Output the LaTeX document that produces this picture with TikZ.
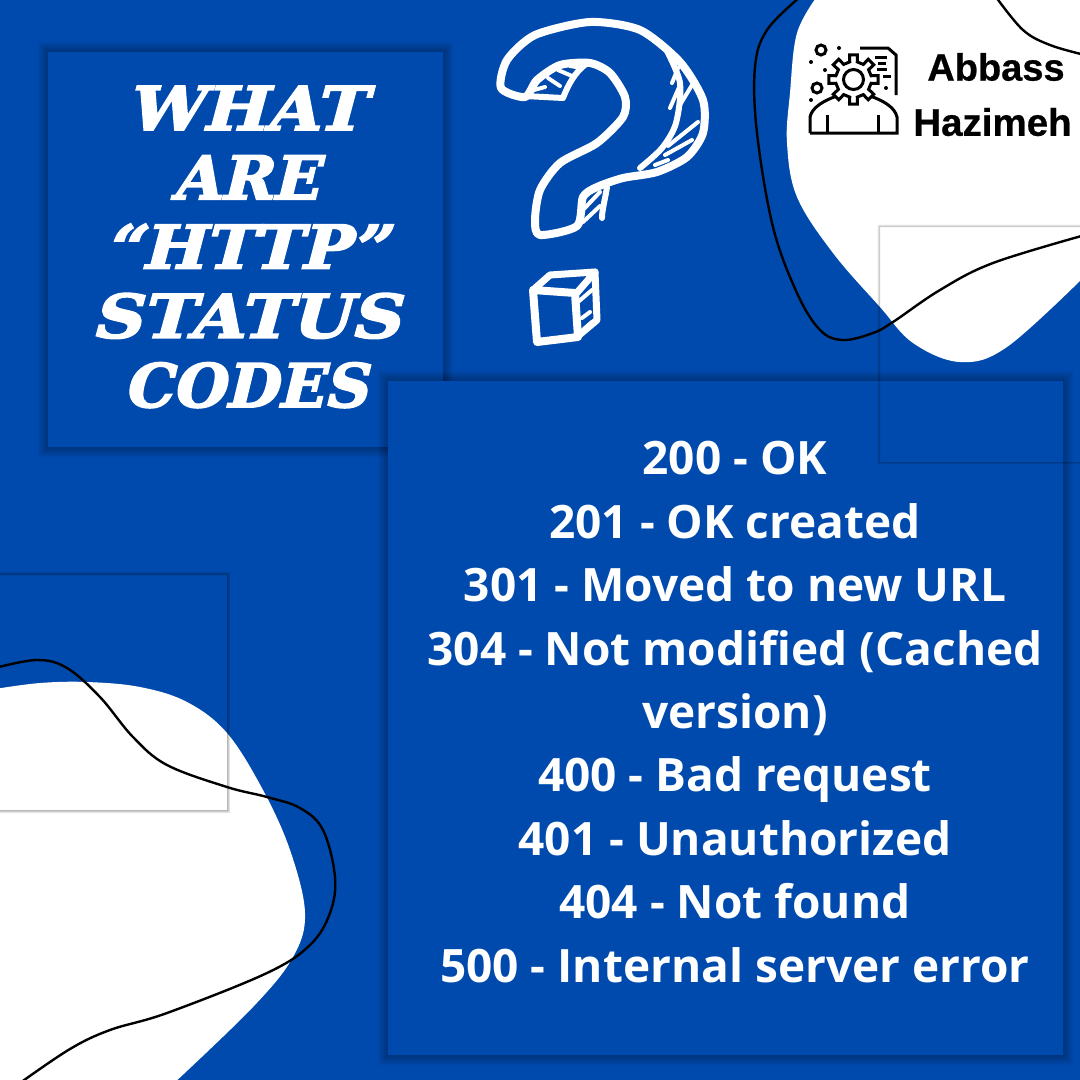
\documentclass[tikz,border=0pt]{standalone}
\usepackage{fontspec}
\setmainfont{Open Sans}
\newfontfamily\titlefont{DejaVu Serif}[BoldFeatures={FakeSlant=.24,FakeBold=3}]
\newfontfamily\namefont{Liberation Sans}[BoldFeatures={FakeBold=0.6}]
\definecolor{brandblue}{HTML}{004AAD}
\tikzset{
  squig/.style={draw=black,line width=2.4pt,smooth,tension=.6},
  blob/.style={fill=white,draw=none},
  sketch/.style={draw=white,line width=8pt,line cap=round,line join=round},
  hatch/.style={draw=white,line width=4pt,line cap=round},
  icon/.style={draw=black,line width=3pt,line join=miter},
}
\newcommand{\softshadow}[7]{% x1 y1 x2 y2 steps stepsize opacity
  \foreach \d in {1,...,#5}{
    \fill[black,fill opacity=#7,even odd rule]
      ({#1-\d*#6},{#2-\d*#6}) rectangle ({#3+\d*#6},{#4+\d*#6})
      (#1,#2) rectangle (#3,#4);
  }
}
\begin{document}
\begin{tikzpicture}[x=1pt,y=-1pt]
\useasboundingbox (0,0) rectangle (1080,1080);
\clip (0,0) rectangle (1080,1080);
\fill[brandblue] (0,0) rectangle (1080,1080);
% blobs
\path[blob] plot[smooth,tension=.6] coordinates {(818,-5) (797,33) (790,93) (787,143) (797,197) (833,253) (880,307) (913,343) (960,362) (1007,347) (1085,276)} -- (1085,-5) -- cycle;
\path[blob] plot[smooth,tension=.6] coordinates {(-5,689) (40,683) (87,682) (140,687) (187,702) (227,733) (263,790) (290,850) (305,913) (293,957) (253,1007) (172,1085)} -- (-5,1085) -- cycle;
% text boxes
\softshadow{48}{52}{443}{447}{10}{1}{.028}
\fill[brandblue] (48,52) rectangle (443,447);
\softshadow{388}{381}{1063}{1055}{10}{1}{.028}
\fill[brandblue] (388,381) rectangle (1063,1055);
% open frames
\softshadow{880}{227}{1085}{462}{3}{.8}{.07}
\softshadow{-5}{575}{227}{810}{4}{.8}{.08}
% curves
\draw[squig] plot coordinates {(800,-3) (767,30) (755,67) (757,133) (773,227) (797,293) (820,330) (843,340) (873,333) (893,322) (940,290) (993,263) (1085,235)};
\draw[squig] plot coordinates {(996,-3) (1023,30) (1050,45) (1085,55)};
\draw[squig] plot coordinates {(-5,668) (37,660) (67,668) (100,697) (133,737) (167,765) (227,787) (267,797) (300,808) (323,830) (335,877) (330,913) (310,945) (267,973) (167,1013) (110,1030) (70,1049) (20,1083)};
% question mark
\draw[sketch] plot[smooth cycle,tension=.45] coordinates {(501,88) (507,60) (535,35) (590,22) (640,30) (680,62) (703,100) (703,133) (687,157) (657,172) (623,178) (597,187) (583,197) (577,226) (540,235) (535,220) (540,190) (560,163) (597,143) (623,117) (625,97) (610,73) (590,63) (560,65) (537,80) (525,97)};
\draw[sketch,line width=6pt] plot[smooth,tension=.5] coordinates {(665,47) (680,83) (676,123) (662,148) (640,168)};
\draw[sketch,line width=6pt] (607,187) .. controls (605,200) and (602,210) .. (602,218);
\draw[sketch,line width=6pt] (525,96) -- (563,98) .. controls (568,85) and (575,72) .. (586,64);
\draw[hatch] (672,83) -- (678,68) (680,85) -- (670,108) (698,122) -- (668,146) (692,140) -- (665,155) (680,105) -- (692,85) (655,165) -- (668,160);
\draw[hatch] (581,212) -- (600,192) (583,222) -- (600,206);
\draw[hatch] (534,90) -- (545,87) (548,78) -- (560,86) (558,70) -- (572,76) (570,66) -- (582,68);
% dot
\draw[sketch] (533,290) -- (537,342) -- (578,337) -- (575,293) -- cycle;
\draw[sketch,line width=7pt] (533,290) -- (550,275) -- (595,272) -- (575,295);
\draw[sketch,line width=7pt] (595,272) -- (597,320) -- (578,336);
\draw[hatch] (578,302) -- (592,290) (582,318) -- (590,312) (585,328) -- (592,322);
% icon
\draw[icon] (810,133) -- (810,117) .. controls (812,107) and (825,100) .. (837,96);
\draw[icon] (810,133) -- (897,133) -- (897,117) .. controls (895,107) and (882,100) .. (870,96);
\draw[icon] (827,115) -- (827,133) (878,115) -- (878,133);
\draw[icon,fill=white,shift={(853.5,79.5)}] (-12:18) \foreach \a in {0,45,...,315}{ -- (\a-12:18) -- (\a-9:25) -- (\a+9:25) -- (\a+12:18) } -- cycle;
\draw[icon] (853.5,79.5) circle[radius=10];
\draw[icon] (821,50) circle[radius=5];
\draw[icon] (817,88) circle[radius=5];
\fill[black] (839,48) circle[radius=2] (811,62) circle[radius=2] (825,70) circle[radius=2] (811,100) circle[radius=2] (886,88) circle[radius=2];
\draw[icon] (860,48) -- (888,48) -- (896,55) -- (896,95);
\draw[icon] (875,57) -- (887,57) (878,63) -- (886,63) (877,69) -- (887,69) (883,76) -- (891,76);
% texts
\node[text=black,font=\namefont\bfseries\fontsize{38}{38}\selectfont,inner sep=0pt] (nameA) at (996,67) {Abbass};
\node[text=black,font=\namefont\bfseries\fontsize{38.5}{38.5}\selectfont,inner sep=0pt] (nameB) at (992.5,122) {Hazimeh};
\node[text=white,font=\titlefont\bfseries\fontsize{60}{69.3}\selectfont,align=center,inner sep=0pt,anchor=center] (title) at (245,247) {\scalebox{1.12}[1]{WHAT}\\\scalebox{1.03}[1]{ARE}\\\scalebox{1.10}[1]{“HTTP”}\\\scalebox{1.15}[1]{STATUS}\\\scalebox{1.01}[1]{CODES}};
\node[text=white,font=\bfseries\fontsize{46}{63.4}\selectfont,align=center,inner sep=0pt,anchor=center] (codes) at (735,712) {200 - OK\\201 - OK created\\301 - Moved to new URL\\304 - Not modified (Cached\\version)\\400 - Bad request\\401 - Unauthorized\\404 - Not found\\500 - Internal server error};
\end{tikzpicture}
\end{document}
